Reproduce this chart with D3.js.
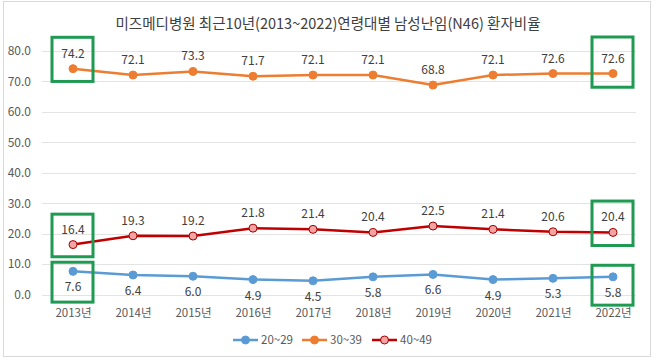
<!DOCTYPE html>
<html><head><meta charset="utf-8">
<script src="https://cdn.jsdelivr.net/npm/d3@7"></script>
<style>
html,body{margin:0;padding:0;background:#fff;}
text{font-family:"Noto Sans CJK KR","Noto Sans",sans-serif;}
</style></head>
<body>
<svg id="c" width="658" height="360"></svg>
<script>
const title = "미즈메디병원 최근10년(2013~2022)연령대별 남성난임(N46) 환자비율";
const years = ["2013년","2014년","2015년","2016년","2017년","2018년","2019년","2020년","2021년","2022년"];
const s20 = [7.6, 6.4, 6.0, 4.9, 4.5, 5.8, 6.6, 4.9, 5.3, 5.8];
const s30 = [74.2, 72.1, 73.3, 71.7, 72.1, 72.1, 68.8, 72.1, 72.6, 72.6];
const s40 = [16.4, 19.3, 19.2, 21.8, 21.4, 20.4, 22.5, 21.4, 20.6, 20.4];
const seriesNames = ["20~29","30~39","40~49"];
const yTicks = [0,10,20,30,40,50,60,70,80];

const svg = d3.select("#c");
svg.append("rect").attr("x",3.5).attr("y",1.5).attr("width",647).attr("height",355)
  .attr("fill","#fff").attr("stroke","#d9d9d9").attr("stroke-width",1);

const x = d3.scalePoint().domain(years).range([73,613]);
const y = d3.scaleLinear().domain([0,80]).range([294.5,51]);

svg.append("g").selectAll("line").data(yTicks).join("line")
  .attr("x1",42).attr("x2",636)
  .attr("y1",d=>Math.round(y(d))+0.5).attr("y2",d=>Math.round(y(d))+0.5)
  .attr("stroke","#e3e3e3").attr("stroke-width",1);

const yAxis = d3.axisLeft(y).tickValues(yTicks).tickFormat(d3.format(".1f")).tickSize(0).tickPadding(0);
const ya = svg.append("g").attr("transform","translate(31,0)").call(yAxis);
ya.select(".domain").remove();
ya.selectAll("text").attr("font-size",12).attr("fill","#595959");

const xAxis = d3.axisBottom(x).tickSize(0).tickPadding(0);
const xa = svg.append("g").attr("transform","translate(0,308.5)").call(xAxis);
xa.select(".domain").remove();
xa.selectAll("text").attr("font-size",11.5).attr("fill","#595959");

svg.append("text").attr("x",328).attr("y",29).attr("text-anchor","middle")
  .attr("font-size",15).attr("fill","#404040")
  .attr("textLength",425).attr("lengthAdjust","spacingAndGlyphs").text(title);

const series = [
  {name:seriesNames[0], vals:s20, color:"#5b9bd5", fill:"#5b9bd5", stroke:"#5b9bd5", lab:"below"},
  {name:seriesNames[1], vals:s30, color:"#ed7d31", fill:"#ed7d31", stroke:"#ed7d31", lab:"above"},
  {name:seriesNames[2], vals:s40, color:"#c00000", fill:"#f4a3a3", stroke:"#a00000", lab:"above"}
];

const line = d3.line().x((d,i)=>x(years[i])).y(d=>y(d));
series.forEach(s=>{
  const g = svg.append("g");
  g.append("path").datum(s.vals).attr("d",line).attr("fill","none")
    .attr("stroke",s.color).attr("stroke-width",2.5);
  g.selectAll("circle").data(s.vals).join("circle")
    .attr("cx",(d,i)=>x(years[i])).attr("cy",d=>y(d)).attr("r",4)
    .attr("fill",s.fill).attr("stroke",s.stroke).attr("stroke-width",1);
  g.selectAll("text").data(s.vals).join("text")
    .attr("x",(d,i)=>x(years[i]))
    .attr("y",d=> s.lab==="above" ? y(d)-11 : y(d)+20)
    .attr("text-anchor","middle").attr("font-size",12).attr("fill","#404040")
    .text(d=>d3.format(".1f")(d));
});

const boxes = [
  {cat:years[0], top:s30[0]+10.3, bottom:70},
  {cat:years[0], top:s40[0]+10, bottom:s40[0]-4},
  {cat:years[0], top:s20[0]+3, bottom:-2.5},
  {cat:years[9], top:s30[9]+12, bottom:s30[9]-4.5},
  {cat:years[9], top:s40[9]+10.3, bottom:s40[9]-4.3},
  {cat:years[9], top:s20[9]+3.8, bottom:-3.5}
];
svg.append("g").selectAll("rect").data(boxes).join("rect")
  .attr("x",d=>x(d.cat)-21).attr("width",41)
  .attr("y",d=>y(d.top)).attr("height",d=>y(d.bottom)-y(d.top))
  .attr("fill","none").attr("stroke","#1f9a52").attr("stroke-width",3);

const legX = [233, 302, 372];
const lg = svg.append("g");
series.forEach((s,i)=>{
  const g = lg.append("g").attr("transform",`translate(${legX[i]},340)`);
  g.append("line").attr("x1",0).attr("x2",25).attr("stroke",s.color).attr("stroke-width",2.5);
  g.append("circle").attr("cx",12.5).attr("cy",0).attr("r",4).attr("fill",s.fill).attr("stroke",s.stroke);
  g.append("text").attr("x",28).attr("y",4).attr("font-size",11.5).attr("fill","#595959").text(s.name);
});
</script>
</body></html>
